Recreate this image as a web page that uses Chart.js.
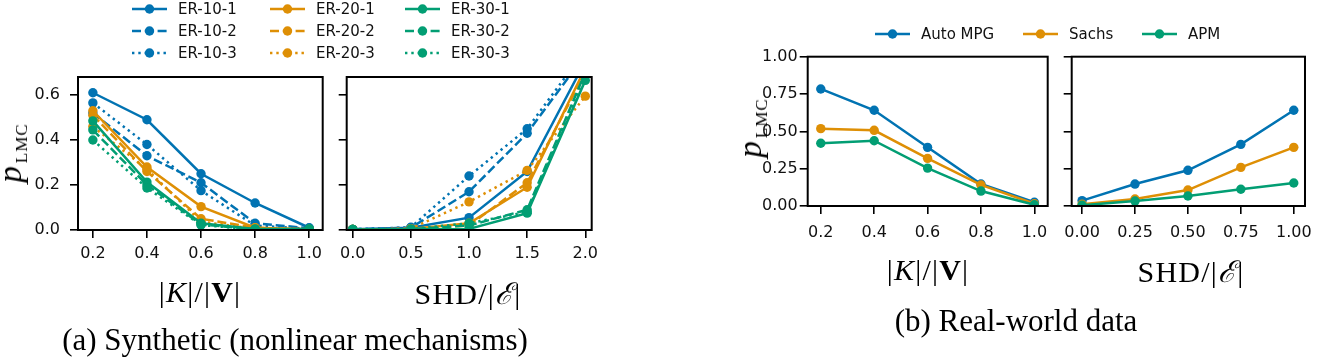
<!DOCTYPE html>
<html>
<head>
<meta charset="utf-8">
<title>p_LMC panels</title>
<script src="https://cdn.jsdelivr.net/npm/chart.js@4.4.0/dist/chart.umd.min.js"></script>
<style>
  html, body { margin: 0; padding: 0; background: #fff; }
  #page { position: relative; width: 1321px; height: 362px; overflow: hidden; }
  #page canvas { position: absolute; left: 0; top: 0; }
  .txt { position: absolute; white-space: nowrap; color: #000; transform: translate(-50%, -50%); }
  .serif { font-family: "Liberation Serif", "DejaVu Serif", serif; }
  .axt { font-size: 30px; letter-spacing: 1.2px; }
  .cap { font-size: 31px; }
  .ylab { font-size: 33px; transform: translate(-50%, -50%) rotate(-90deg); }
  .ylab i { margin-right: 3px; }
  .ylab sub { font-size: 17px; vertical-align: -6px; letter-spacing: 1px; }
  .leg { position: absolute; font-family: "DejaVu Sans", sans-serif; font-size: 15px; color: #111;
         display: flex; align-items: center; transform: translateY(-50%); white-space: nowrap; }
  .leg svg { margin-right: 11px; }
</style>
</head>
<body>
<div id="page">
  <canvas id="synthK" width="1321" height="362"></canvas>
  <canvas id="synthShd" width="1321" height="362"></canvas>
  <canvas id="realK" width="1321" height="362"></canvas>
  <canvas id="realShd" width="1321" height="362"></canvas>

  <div class="txt serif ylab" style="left:12px; top:153px;"><i>p</i><sub>LMC</sub></div>
  <div class="txt serif ylab" style="left:752px; top:128px;"><i>p</i><sub>LMC</sub></div>

  <div class="txt serif axt" style="left:200px; top:292px;">|<i>K</i>|/|<b>V</b>|</div>
  <div class="txt serif axt" style="left:468px; top:292px;">SHD/|<i>&#8496;</i>|</div>
  <div class="txt serif axt" style="left:928px; top:270px;">|<i>K</i>|/|<b>V</b>|</div>
  <div class="txt serif axt" style="left:1191px; top:270px;">SHD/|<i>&#8496;</i>|</div>

  <div class="txt serif cap" style="left:295px; top:340px;">(a) Synthetic (nonlinear mechanisms)</div>
  <div class="txt serif cap" style="left:1016px; top:321px;">(b) Real-world data</div>
</div>

<script>
// x positions and tick labels
var kvX = [0.2, 0.4, 0.6, 0.8, 1.0];
var shdSynthX = [0.0, 0.5, 1.0, 1.5, 2.0];
var shdRealX = [0.0, 0.25, 0.5, 0.75, 1.0];
var synthYTicks = [0.0, 0.2, 0.4, 0.6];
var realYTicks = [0.0, 0.25, 0.5, 0.75, 1.0];

// (a) synthetic, p_LMC vs |K|/|V|
var er101K = [0.61, 0.49, 0.25, 0.12, 0.01];
var er102K = [0.52, 0.33, 0.21, 0.03, 0.008];
var er103K = [0.565, 0.38, 0.175, 0.02, 0.005];
var er201K = [0.53, 0.28, 0.104, 0.01, 0.003];
var er202K = [0.51, 0.26, 0.05, 0.01, 0.002];
var er203K = [0.46, 0.27, 0.037, 0.005, 0.002];
var er301K = [0.485, 0.213, 0.03, 0.005, 0.005];
var er302K = [0.445, 0.2, 0.025, 0.003, 0.004];
var er303K = [0.40, 0.187, 0.022, 0.002, 0.003];

// (a) synthetic, p_LMC vs SHD/|E|
var er101S = [0.003, 0.01, 0.055, 0.26, 0.75];
var er102S = [0.003, 0.01, 0.17, 0.43, 0.78];
var er103S = [0.003, 0.012, 0.24, 0.45, 0.80];
var er201S = [0.002, 0.005, 0.03, 0.19, 0.72];
var er202S = [0.002, 0.005, 0.02, 0.21, 0.70];
var er203S = [0.002, 0.006, 0.125, 0.265, 0.595];
var er301S = [0.002, 0.003, 0.005, 0.075, 0.665];
var er302S = [0.002, 0.004, 0.02, 0.09, 0.70];
var er303S = [0.002, 0.004, 0.03, 0.08, 0.69];

// (b) real-world data
var autoMpgK = [0.784, 0.641, 0.393, 0.147, 0.025];
var sachsK = [0.518, 0.507, 0.319, 0.141, 0.015];
var apmK = [0.42, 0.437, 0.254, 0.10, 0.008];
var autoMpgS = [0.036, 0.147, 0.239, 0.413, 0.641];
var sachsS = [0.012, 0.047, 0.107, 0.259, 0.393];
var apmS = [0.005, 0.033, 0.067, 0.112, 0.154];

var BLUE = "#0173b2", ORANGE = "#de8f05", GREEN = "#029e73";
var DASH = { solid: [], dashed: [9, 3.8], dotted: [2.4, 3.9] };
var LINE_W = 2.5, DOT_R = 4.7;

var synthNames = ["ER-10-1", "ER-10-2", "ER-10-3", "ER-20-1", "ER-20-2", "ER-20-3", "ER-30-1", "ER-30-2", "ER-30-3"];
var synthColors = [BLUE, BLUE, BLUE, ORANGE, ORANGE, ORANGE, GREEN, GREEN, GREEN];
var synthStyles = ["solid", "dashed", "dotted", "solid", "dashed", "dotted", "solid", "dashed", "dotted"];
var synthK = [er101K, er102K, er103K, er201K, er202K, er203K, er301K, er302K, er303K];
var synthS = [er101S, er102S, er103S, er201S, er202S, er203S, er301S, er302S, er303S];

var realNames = ["Auto MPG", "Sachs", "APM"];
var realColors = [BLUE, ORANGE, GREEN];
var realStyles = ["solid", "solid", "solid"];
var realK = [autoMpgK, sachsK, apmK];
var realS = [autoMpgS, sachsS, apmS];

Chart.defaults.font.family = "'DejaVu Sans', sans-serif";
Chart.defaults.font.size = 16;
Chart.defaults.color = "#111";

var Y_AXIS_W = 60, X_AXIS_H = 40;

// full box around the plot area, drawn over the lines like matplotlib spines
var framePlugin = {
    id: "frame",
    afterDatasetsDraw: function(chart) {
        var a = chart.chartArea, ctx = chart.ctx;
        ctx.save();
        ctx.strokeStyle = "#000";
        ctx.lineWidth = 2;
        ctx.strokeRect(a.left, a.top, a.right - a.left, a.bottom - a.top);
        ctx.restore();
    }
};

function buildDatasets(xs, series, names, colors, styles)
{
    var n = series.length;
    return series.map(function(vals, i) {
        return {
            label: names[i],
            data: xs.map(function(x, j) { return { x: x, y: vals[j] }; }),
            borderColor: colors[i],
            backgroundColor: colors[i],
            borderWidth: LINE_W,
            borderDash: DASH[styles[i]],
            pointRadius: DOT_R,
            pointBorderWidth: 0,
            pointHoverRadius: DOT_R,
            tension: 0,
            clip: 0,
            order: n - i   // later series on top
        };
    });
}

function axis(min, max, ticks, dec, showLabels, isX, pad)
{
    return {
        type: "linear",
        min: min,
        max: max,
        afterBuildTicks: function(s) { s.ticks = ticks.map(function(v) { return { value: v }; }); },
        afterFit: function(s) { if (isX) { s.height = X_AXIS_H; } else { s.width = Y_AXIS_W; } },
        ticks: {
            display: showLabels,
            padding: pad,
            maxRotation: 0,
            autoSkip: false,
            callback: function(v) { return Number(v).toFixed(dec); }
        },
        grid: { drawOnChartArea: false, drawTicks: true, tickLength: 8, color: "#000", lineWidth: 1.6 },
        border: { display: false }
    };
}

// box = chart area in page pixels
function makePanel(id, box, datasets, xAxis, yAxis)
{
    new Chart(document.getElementById(id), {
        type: "line",
        data: { datasets: datasets },
        options: {
            responsive: false,
            animation: false,
            events: [],
            layout: {
                padding: {
                    left: box.left - Y_AXIS_W,
                    top: box.top,
                    right: 1321 - box.right,
                    bottom: 362 - box.bottom - X_AXIS_H
                }
            },
            plugins: { legend: { display: false }, tooltip: { enabled: false } },
            scales: { x: xAxis, y: yAxis }
        },
        plugins: [framePlugin]
    });
}

makePanel("synthK", { left: 78, top: 77, right: 322.7, bottom: 230 },
    buildDatasets(kvX, synthK, synthNames, synthColors, synthStyles),
    axis(0.145, 1.05, kvX, 1, true, true, 6), axis(0, 0.68, synthYTicks, 1, true, false, 10));

makePanel("synthShd", { left: 346.7, top: 77, right: 591.7, bottom: 230 },
    buildDatasets(shdSynthX, synthS, synthNames, synthColors, synthStyles),
    axis(-0.052, 2.055, shdSynthX, 1, true, true, 6), axis(0, 0.68, synthYTicks, 1, false, false, 10));

makePanel("realK", { left: 807.7, top: 56.7, right: 1047.7, bottom: 206 },
    buildDatasets(kvX, realK, realNames, realColors, realStyles),
    axis(0.151, 1.05, kvX, 1, true, true, 9), axis(0, 1, realYTicks, 2, true, false, 2));

makePanel("realShd", { left: 1071.7, top: 56.7, right: 1312.3, bottom: 206 },
    buildDatasets(shdRealX, realS, realNames, realColors, realStyles),
    axis(-0.049, 1.053, shdRealX, 2, true, true, 9), axis(0, 1, realYTicks, 2, false, false, 2));

// html legends: line sample with marker, then the name
function legendItem(x, y, name, color, style)
{
    var el = document.createElement("div");
    el.className = "leg";
    el.style.left = x + "px";
    el.style.top = y + "px";
    var dash = DASH[style].length ? DASH[style].join(",") : "none";
    el.innerHTML = "<svg width='35' height='12'>" +
        "<line x1='0' y1='6' x2='35' y2='6' stroke='" + color + "' stroke-width='" + LINE_W + "' stroke-dasharray='" + dash + "'/>" +
        "<circle cx='17.5' cy='6' r='" + DOT_R + "' fill='" + color + "'/></svg><span>" + name + "</span>";
    document.getElementById("page").appendChild(el);
}

var synthLegCols = [132, 270, 405];
var synthLegRows = [8.5, 31, 53];
synthNames.forEach(function(name, i) {
    legendItem(synthLegCols[Math.floor(i / 3)], synthLegRows[i % 3], name, synthColors[i], synthStyles[i]);
});

var realLegCols = [875, 1023, 1142];
realNames.forEach(function(name, i) {
    legendItem(realLegCols[i], 34, name, realColors[i], realStyles[i]);
});
</script>
</body>
</html>
